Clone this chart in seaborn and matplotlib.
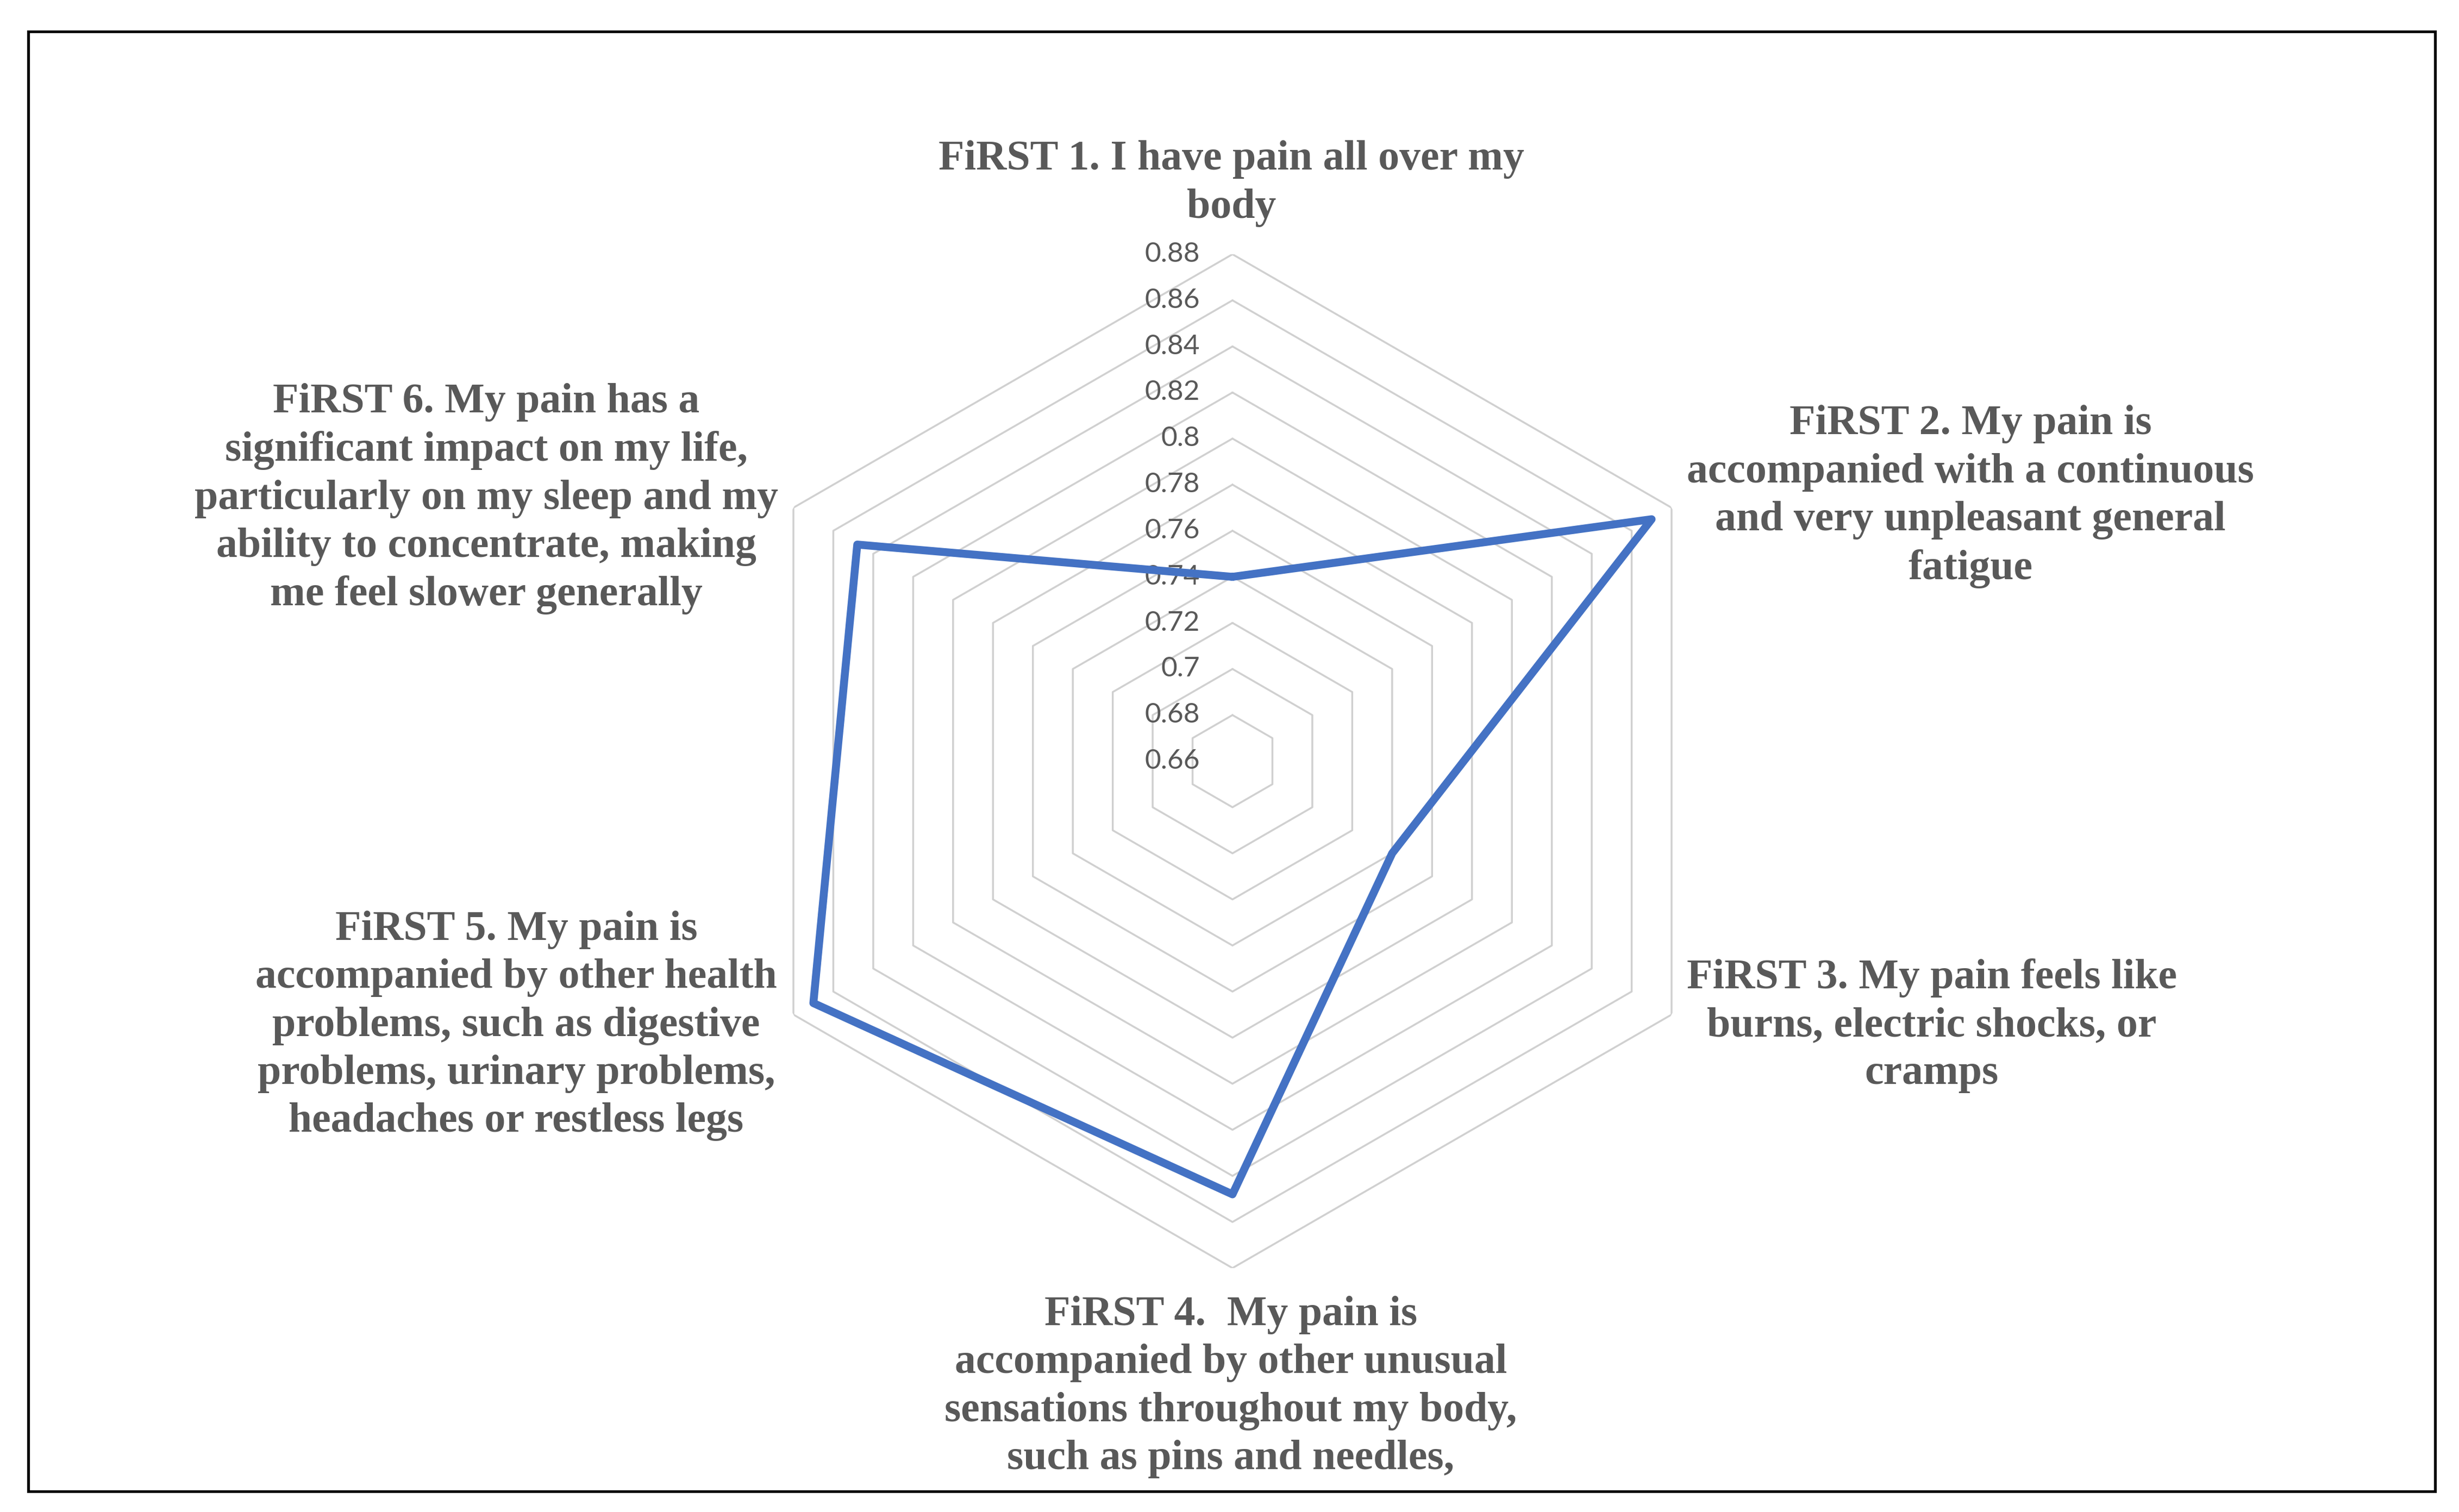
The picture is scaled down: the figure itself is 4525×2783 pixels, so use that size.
import numpy as np
import matplotlib
matplotlib.use("Agg")
import matplotlib.pyplot as plt
import matplotlib.transforms as mtransforms
from matplotlib.patches import Rectangle
import seaborn as sns

# -----------------------------------
# DATA
# -----------------------------------
items = [
    "FiRST 1. I have pain all over my\nbody",
    "FiRST 2. My pain is\naccompanied with a continuous\nand very unpleasant general\nfatigue",
    "FiRST 3. My pain feels like\nburns, electric shocks, or\ncramps",
    "FiRST 4.  My pain is\naccompanied by other unusual\nsensations throughout my body,\nsuch as pins and needles,",
    "FiRST 5. My pain is\naccompanied by other health\nproblems, such as digestive\nproblems, urinary problems,\nheadaches or restless legs",
    "FiRST 6. My pain has a\nsignificant impact on my life,\nparticularly on my sleep and my\nability to concentrate, making\nme feel slower generally",
]
scores = [0.74, 0.87, 0.74, 0.848, 0.87, 0.848]
ring_values = [0.68, 0.70, 0.72, 0.74, 0.76, 0.78, 0.80, 0.82, 0.84, 0.86, 0.88]
tick_values = [0.66, 0.68, 0.70, 0.72, 0.74, 0.76, 0.78, 0.80, 0.82, 0.84, 0.86, 0.88]
tick_labels = ["0.66", "0.68", "0.7", "0.72", "0.74", "0.76", "0.78", "0.8", "0.82", "0.84", "0.86", "0.88"]

# label centres in pixels of the final image (x, y from top)
label_pos = [(2266, 338), (3626, 914), (3555, 1888), (2265, 2553), (950, 1888), (895, 918)]

W, H = 4525, 2783
text_grey = "#595959"
blue = "#4472C4"
grid_grey = "#D0D0D0"

sns.set_theme(style="white")

fig = plt.figure(figsize=(W / 100, H / 100), dpi=100)
fig.patch.set_facecolor("white")

# polar axes placed so the centre sits at (2268, 1401) px, radius 933 px
cx, cy, rad = 2268, 1401, 933
ax = fig.add_axes([(cx - rad) / W, (H - cy - rad) / H, 2 * rad / W, 2 * rad / H],
                  projection="polar")
ax.set_theta_offset(np.pi / 2)
ax.set_theta_direction(-1)
ax.set_ylim(0.66, 0.88)
ax.grid(False)
ax.set_xticks([])
ax.set_yticks([])
ax.spines["polar"].set_visible(False)
ax.patch.set_alpha(0)

n = len(items)
theta = np.arange(n) * 2 * np.pi / n
theta_closed = np.append(theta, theta[0])

# hexagonal gridlines
for r in ring_values:
    ax.plot(theta_closed, [r] * (n + 1), color=grid_grey, linewidth=2.5, zorder=1)

# data line
scores_closed = scores + [scores[0]]
sns.lineplot(x=theta_closed, y=scores_closed, sort=False, estimator=None, ax=ax,
             color=blue, linewidth=10.5, solid_joinstyle="round", zorder=3)

# radial tick labels on the left of the top axis
off = mtransforms.offset_copy(ax.transData, fig=fig, x=-60, y=0, units="dots")
for v, lab in zip(tick_values, tick_labels):
    ax.text(0, v, lab, transform=off, ha="right", va="center",
            fontsize=37, color=text_grey, family=["Lato", "DejaVu Sans"], zorder=2)

# category labels
for (px, py), txt in zip(label_pos, items):
    fig.text(px / W, 1 - py / H, txt, ha="center", va="center", multialignment="center",
             fontsize=56, fontweight="bold", color=text_grey,
             family=["Liberation Serif", "DejaVu Serif"], linespacing=1.32)

# outer frame
fig.patches.append(Rectangle((52 / W, 1 - 2745 / H), (4481 - 52) / W, (2745 - 58) / H,
                             transform=fig.transFigure, fill=False,
                             edgecolor="black", linewidth=3.6))

fig.savefig("out.png", dpi=100, facecolor="white")
print("saved out.png")
